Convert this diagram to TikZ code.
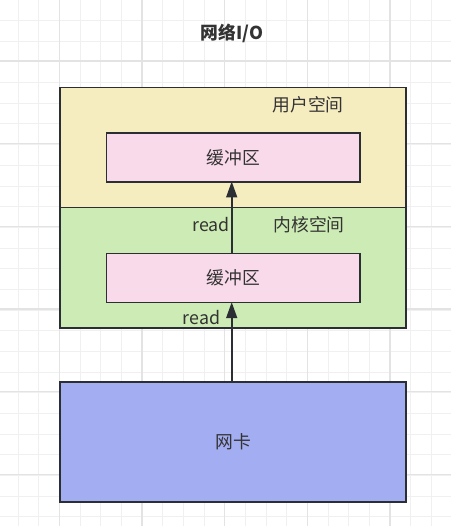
\documentclass[tikz,border=0pt]{standalone}
\usepackage{fontspec}
\setmainfont{Noto Sans CJK SC}
\usetikzlibrary{arrows.meta}
\definecolor{gridminor}{HTML}{F0F0F0}
\definecolor{gridmajor}{HTML}{E3E3E3}
\definecolor{strokec}{HTML}{2B2F33}
\definecolor{txt}{HTML}{333333}
\definecolor{userfill}{HTML}{F5ECC0}
\definecolor{kernfill}{HTML}{CDEBB4}
\definecolor{buffill}{HTML}{F9DAEA}
\definecolor{nicfill}{HTML}{A3ADF1}
\tikzset{
  box/.style={draw=strokec, line width=1.7pt, rectangle, inner sep=0pt, anchor=north west},
  lbl/.style={text=txt, font=\fontsize{17.8}{20}\selectfont, inner sep=0pt},
  flow/.style={draw=strokec, line width=1.6pt, -{Triangle[length=16pt,width=11pt]}, shorten >=0.5pt}
}
\begin{document}
\begin{tikzpicture}[x=1pt,y=-1pt]
\useasboundingbox (0,0) rectangle (451,526);
\fill[white] (0,0) rectangle (451,526);
% grid
\foreach \i in {0,...,22}{
  \draw[gridminor, line width=1pt] ({18+20.667*\i},0) -- ({18+20.667*\i},526);
}
\foreach \i in {0,...,26}{
  \draw[gridminor, line width=1pt] (0,{20.667*\i}) -- (451,{20.667*\i});
}
\foreach \i in {-1,...,5}{
  \draw[gridmajor, line width=1.2pt] ({59.3+82.667*\i},0) -- ({59.3+82.667*\i},526);
}
\foreach \i in {0,...,6}{
  \draw[gridmajor, line width=1.2pt] (0,{-21.67+82.667*\i}) -- (451,{-21.67+82.667*\i});
}
% title
\node[lbl, font=\fontsize{17.8}{20}\selectfont\bfseries] (title) at (232,33) {网络I/O};
% boxes
\node[box, fill=userfill, minimum width=346pt, minimum height=120pt] (user) at (59.3,86.7) {};
\node[box, fill=kernfill, minimum width=346pt, minimum height=120.6pt] (kernel) at (59.3,206.7) {};
\node[box, fill=nicfill, minimum width=346pt, minimum height=120pt] (nic) at (59.3,381.3) {};
\node[box, fill=buffill, minimum width=253.6pt, minimum height=48.7pt] (ubuf) at (105.7,132.3) {};
\node[box, fill=buffill, minimum width=253.6pt, minimum height=49pt] (kbuf) at (105.7,252.7) {};
\node[lbl] (ubuft) at (ubuf.center) {缓冲区};
\node[lbl] (kbuft) at (kbuf.center) {缓冲区};
\node[lbl] (nict) at (nic.center) {网卡};
\node[lbl] (usert) at (308,105) {用户空间};
\node[lbl] (kernt) at (309,225) {内核空间};
% arrows
\coordinate (a1s) at (231.7,381.3);
\coordinate (a1e) at (231.7,301.7);
\coordinate (a2s) at (231.7,252.7);
\coordinate (a2e) at (231.7,181);
\draw[flow] (a1s) -- (a1e);
\draw[flow] (a2s) -- (a2e);
\node[lbl] (read1) at (211,225) {read};
\node[lbl] (read2) at (201.5,317.5) {read};
\end{tikzpicture}
\end{document}
